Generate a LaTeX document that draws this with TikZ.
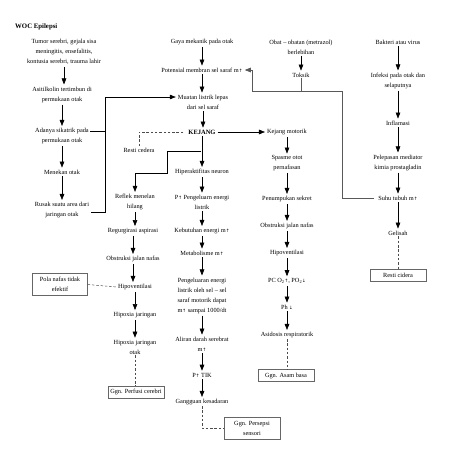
\documentclass[tikz,border=0pt]{standalone}
\usepackage{fontspec}
\setmainfont{Liberation Serif}
\newfontfamily\symf{DejaVu Sans}
\usetikzlibrary{arrows.meta,calc}
\newcommand\upa{{\symf\fontsize{4.5}{5}\selectfont ↑}}
\newcommand\dwa{{\symf\fontsize{4.5}{5}\selectfont ↓}}
\newcommand\dn[2]{\draw[arr] (#1.south) -- (#1.south |- #2.north);}
\begin{document}
\begin{tikzpicture}[x=1pt,y=-1pt,
 tx/.style={align=center,inner sep=1pt,font=\fontsize{6.3}{10}\selectfont},
 bx/.style={tx,draw=black!60,minimum width=56pt,minimum height=12pt,inner sep=1.5pt},
 arr/.style={-{Triangle[length=6pt,width=4.6pt]},line width=0.6pt,shorten >=1pt,shorten <=1pt},
 ln/.style={line width=0.6pt},
 dsh/.style={dash pattern=on 2.5pt off 1.8pt,line width=0.5pt,black!70}]
\useasboundingbox (0,0) rectangle (452,452);
\fill[white] (0,0) rectangle (452,452);

% column 1
\node[tx,anchor=west,font=\fontsize{6.8}{8}\selectfont\bfseries] (woc) at (14,27) {WOC Epilepsi};
\node[tx] (tumor) at (64,52) {Tumor serebri, gejala sisa\\meningitis, ensefalitis,\\kontusia serebri, trauma lahir};
\node[tx] (asit) at (62,94.5) {Asitilkolin tertimbun di\\permukaan otak};
\node[tx] (adanya) at (62,136) {Adanya sikatrik pada\\permukaan otak};
\node[tx] (menekan) at (62,172) {Menekan otak};
\node[tx] (rusak) at (62,210) {Rusak suatu area dari\\jaringan otak};
\node[bx,minimum height=22pt,minimum width=55pt] (pola) at (60,284.5) {Pola nafas tidak\\efektif};

% column 2a
\node[tx] (resti) at (139,150) {Resti cedera};
\node[tx] (reflek) at (135,202) {Reflek menelan\\hilang};
\node[tx] (regur) at (133,231) {Regurgirasi aspirasi};
\node[tx] (obs1) at (133,259) {Obstruksi jalan nafas};
\node[tx] (hipo1) at (135,287) {Hipoventilasi};
\node[tx] (hipox1) at (135,315) {Hipoxia jaringan};
\node[tx] (hipox2) at (135,347) {Hipoxia jaringan\\otak};
\node[bx] (perfusi) at (136,392) {Ggn. Perfusi cerebri};

% column 2b
\node[tx] (gaya) at (202,42) {Gaya mekanik pada otak};
\node[tx] (pot) at (202,70) {Potensial membran sel saraf m\upa};
\node[tx] (muatan) at (203,102) {Muatan listrik lepas\\dari sel saraf};
\node[tx,font=\fontsize{6.5}{8}\selectfont\bfseries] (kejang) at (202,132) {KEJANG};
\node[tx] (hiper) at (202,172) {Hiperaktifitas neuron};
\node[tx] (peng1) at (202,202) {P\upa\ Pengeluarn energi\\listrik};
\node[tx] (kebut) at (202,231) {Kebutuhan energi m\upa};
\node[tx] (metab) at (202,253) {Metabolisme m\upa};
\node[tx] (peng2) at (202,295.5) {Pengeluaran energi\\listrik oleh sel -- sel\\saraf motorik dapat\\m\upa\ sampai 1000/dt};
\node[tx] (aliran) at (202,344) {Aliran darah serebrat\\m\upa};
\node[tx] (ptik) at (202,375) {P\upa\ TIK};
\node[tx] (gang) at (202,402) {Gangguan kesadaran};
\node[bx,minimum height=22pt] (persepsi) at (252,428) {Ggn. Persepsi\\sensori};

% column 3
\node[tx] (obat) at (301,47) {Obat -- obatan (metrazol)\\berlebihan};
\node[tx] (toksik) at (301,75) {Toksik};
\node[tx] (kmotor) at (287,132) {Kejang motorik};
\node[tx] (spasme) at (287,163.5) {Spasme otot\\pernafasan};
\node[tx] (penum) at (287,199) {Penumpukan sekret};
\node[tx] (obs2) at (287,226) {Obstruksi jalan nafas};
\node[tx] (hipo2) at (287,253) {Hipoventilasi};
\node[tx] (pco) at (287,281) {PC O\textsubscript{2}\upa, PO\textsubscript{2}\dwa};
\node[tx] (ph) at (287,307) {Ph \dwa};
\node[tx] (asid) at (287,335) {Asidosis respiratorik};
\node[bx] (asam) at (286,375.5) {Ggn. Asam basa};

% column 4
\node[tx] (bakteri) at (398,42) {Bakteri atau virus};
\node[tx] (infeksi) at (398,80.5) {Infeksi pada otak dan\\selaputnya};
\node[tx] (inflam) at (398,123) {Inflamasi};
\node[tx] (pelep) at (398,162.5) {Pelepasan mediator\\kimia prostagladin};
\node[tx] (suhu) at (398,198) {Suhu tubuh m\upa};
\node[tx] (gelisah) at (398,233) {Gelisah};
\node[bx] (resticid) at (398,275) {Resti cidera};

% arrows column 1
\dn{tumor}{asit}
\dn{asit}{adanya}
\dn{adanya}{menekan}
\dn{menekan}{rusak}
\coordinate (ja) at (105,131);
\coordinate (jr) at (105,212);
\coordinate (jm) at (105,97);
\draw[ln] (adanya.east |- ja) -- (ja);
\draw[arr] (rusak.east |- jr) -- (jr) -- (jm) -- (jm -| muatan.west);

% column 2b
\dn{gaya}{pot}
\dn{pot}{muatan}
\dn{muatan}{kejang}
\dn{kejang}{hiper}
\draw[arr] (kejang.east) -- (kmotor.west);
\draw[dsh,shorten <=4pt] (kejang.west) -- (kejang.west -| resti.north) -- (resti.north);
\coordinate (s1) at (167,151);
\coordinate (s2) at (167,173);
\draw[arr] (s1 -| kejang.south) -- (s1) -- (s2) -- (s2 -| reflek.north) -- (reflek.north);
\dn{hiper}{peng1}
\dn{peng1}{kebut}
\dn{kebut}{metab}
\dn{metab}{peng2}
\dn{peng2}{aliran}
\dn{aliran}{ptik}
\dn{ptik}{gang}
\draw[dsh] (gang.south) |- (persepsi.west);

% column 2a
\dn{reflek}{regur}
\dn{regur}{obs1}
\dn{obs1}{hipo1}
\dn{hipo1}{hipox1}
\dn{hipox1}{hipox2}
\draw[dsh] (hipox2.south) -- (hipox2.south |- perfusi.north);
\draw[dsh] (pola.east) -- (hipo1.west);

% column 3
\dn{obat}{toksik}
\coordinate (tk) at (301,91);
\coordinate (lk) at (252,91);
\coordinate (rk) at (342,91);
\draw[ln,black!65] (toksik.south) -- (tk);
\draw[arr,black!65,shorten <=3pt] (suhu.west) -- (suhu.west -| rk) -- (rk) -- (lk) -- (lk |- pot.east) -- (pot.east);
\dn{kmotor}{spasme}
\dn{spasme}{penum}
\dn{penum}{obs2}
\dn{obs2}{hipo2}
\dn{hipo2}{pco}
\dn{pco}{ph}
\dn{ph}{asid}
\draw[dsh] (asid.south) -- (asid.south |- asam.north);

% column 4
\dn{bakteri}{infeksi}
\dn{infeksi}{inflam}
\dn{inflam}{pelep}
\dn{pelep}{suhu}
\dn{suhu}{gelisah}
\draw[dsh] (gelisah.south) -- (gelisah.south |- resticid.north);
\end{tikzpicture}
\end{document}
